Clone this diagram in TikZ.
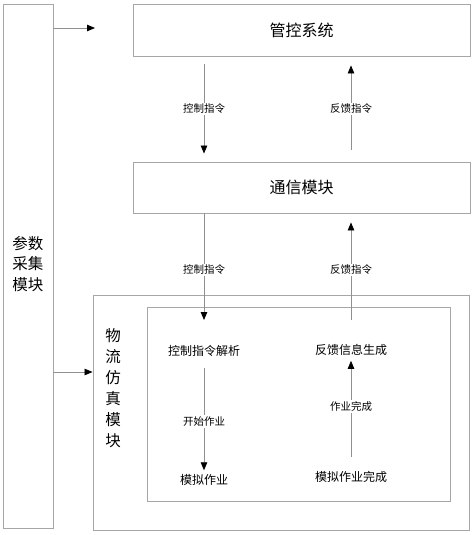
\documentclass[tikz,border=0pt]{standalone}
\usepackage{fontspec}
\setmainfont{Noto Sans CJK SC}
\usetikzlibrary{arrows.meta,calc}
\definecolor{boxgray}{HTML}{A6A6A6}
\definecolor{linegray}{HTML}{909090}
\tikzset{
  box/.style={draw=boxgray, line width=0.9pt, inner sep=0pt, anchor=center},
  arr/.style={draw=linegray, line width=0.8pt, -{Triangle[length=8pt,width=6.5pt,color=black,fill=black]}},
  lab/.style={fill=white, font=\fontsize{10.5}{12}\selectfont, inner sep=1.5pt},
  big/.style={font=\fontsize{16}{18}\selectfont},
  mid/.style={font=\fontsize{12}{14}\selectfont, inner sep=2pt},
}
\begin{document}
\begin{tikzpicture}[x=1pt,y=-1pt]
\useasboundingbox (0,0) rectangle (474,535);
% boxes
\node[box, minimum width=50pt, minimum height=524pt] (left) at (28,266) {};
\node[box, minimum width=337pt, minimum height=52pt, big] (top) at (301.5,30) {管控系统};
\node[box, minimum width=337pt, minimum height=51pt, big] (comm) at (301.5,187.5) {通信模块};
\node[box, minimum width=376pt, minimum height=235pt] (outer) at (281,412.5) {};
\node[box, minimum width=303pt, minimum height=194pt] (inner) at (298.5,404) {};
% vertical texts
\node[align=center, font=\fontsize{15.5}{20.5}\selectfont, inner sep=0pt] (lefttxt) at (28,264) {参数\\采集\\模块};
\node[align=center, font=\fontsize{15.5}{21}\selectfont, inner sep=0pt] (outertxt) at (113,388) {物\\流\\仿\\真\\模\\块};
% inner texts
\node[mid] (t1) at (204,351) {控制指令解析};
\node[mid] (t2) at (351,350) {反馈信息生成};
\node[mid] (t3) at (204,480) {模拟作业};
\node[mid] (t4) at (351,477) {模拟作业完成};
% free ends
\coordinate (p1) at (95,28);
\coordinate (c1) at (204,320);
\coordinate (c2) at (351,320);
% arrows
\draw[arr] (left.east |- p1) -- (p1);
\draw[arr] (left.east |- 0,372) -- (outer.west |- 0,372);
\draw[arr, shorten <=8pt, shorten >=8pt] (top.south -| t1) -- node[lab]{控制指令} (comm.north -| t1);
\draw[arr, shorten <=12pt, shorten >=9pt] (comm.north -| t2) -- node[lab]{反馈指令} (top.south -| t2);
\draw[arr] (comm.south -| t1) -- node[lab, pos=0.53]{控制指令} (c1);
\draw[arr, shorten >=9pt] (c2) -- node[lab, pos=0.47]{反馈指令} (comm.south -| t2);
\draw[arr, shorten <=9pt, shorten >=2pt] (t1.south) -- node[lab, pos=0.55]{开始作业} (t3.north);
\draw[arr, shorten <=12pt, shorten >=3pt] (t4.north) -- node[lab, pos=0.56]{作业完成} (t2.south);
\end{tikzpicture}
\end{document}
